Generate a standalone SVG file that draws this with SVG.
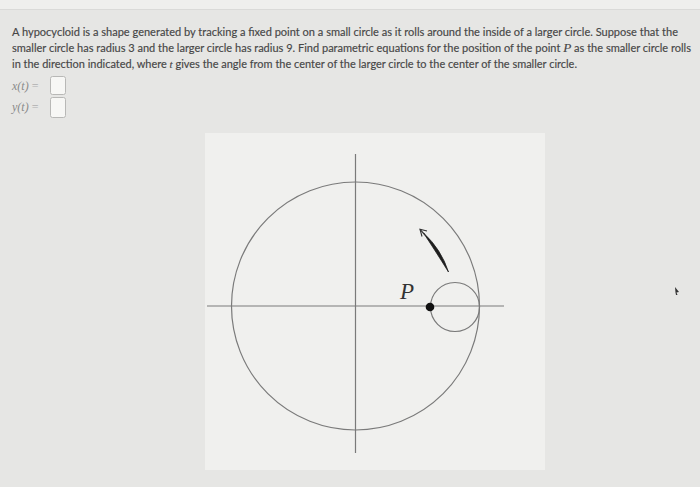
<svg xmlns="http://www.w3.org/2000/svg" width="700" height="487" viewBox="0 0 700 487">
  <defs>
    <style>
      .txt { font-family: "Lato", "Liberation Sans", sans-serif; font-size: 10.8px; fill: #474747; stroke: #474747; stroke-width: 0.15px; }
      .math { font-family: "Liberation Serif", serif; font-style: italic; font-size: 12px; fill: #8a8a8a; }
      .box { fill: #f7f7f5; stroke: #b8b8b6; stroke-width: 1; }
      .ln { fill: none; stroke: #7a7a7a; stroke-width: 1.2; }
    </style>
  </defs>
  <rect x="0" y="0" width="700" height="487" fill="#e6e6e4"/>
  <rect x="0" y="0" width="700" height="9" fill="#efefed"/>
  <line x1="0" y1="9.5" x2="700" y2="9.5" stroke="#dadad8" stroke-width="1"/>

  <g id="question">
    <text class="txt" x="12" y="36" textLength="666" lengthAdjust="spacingAndGlyphs">A hypocycloid is a shape generated by tracking a fixed point on a small circle as it rolls around the inside of a larger circle. Suppose that the</text>
    <text class="txt" x="12" y="52" textLength="679" lengthAdjust="spacingAndGlyphs">smaller circle has radius 3 and the larger circle has radius 9. Find parametric equations for the position of the point <tspan font-family="Liberation Serif, serif" font-style="italic" font-size="13px">P</tspan> as the smaller circle rolls</text>
    <text class="txt" x="12" y="68" textLength="565" lengthAdjust="spacingAndGlyphs">in the direction indicated, where <tspan font-family="Liberation Serif, serif" font-style="italic">t</tspan> gives the angle from the center of the larger circle to the center of the smaller circle.</text>
  </g>

  <g id="answer-x">
    <text class="math" x="12" y="90">x(t) <tspan font-style="normal" fill="#b0b0b0">=</tspan></text>
    <rect class="box" x="50.5" y="76.5" width="15" height="18" rx="2"/>
  </g>
  <g id="answer-y">
    <text class="math" x="12" y="111">y(t) <tspan font-style="normal" fill="#b0b0b0">=</tspan></text>
    <rect class="box" x="50.5" y="97.5" width="15" height="20" rx="2"/>
  </g>

  <g id="figure">
    <rect x="205" y="133" width="340" height="337" fill="#f0f0ee"/>
    <g id="axes">
      <line class="ln" x1="355.5" y1="154" x2="355.5" y2="453"/>
      <line class="ln" x1="207" y1="306" x2="504" y2="306"/>
    </g>
    <g id="large-circle">
      <circle class="ln" cx="355.5" cy="306" r="124"/>
    </g>
    <g id="small-circle">
      <circle class="ln" cx="455" cy="307" r="24.5"/>
    </g>
    <g id="point-P">
      <circle cx="430" cy="307" r="4.3" fill="#111"/>
      <text x="400" y="298.5" font-family="Liberation Serif, serif" font-style="italic" font-size="23" fill="#333">P</text>
    </g>
    <g id="connectors">
      <path d="M448.5 272 Q434.5 249.5 423.5 233 Q441 249 448.5 272 Z" fill="#1e1e1e" stroke="#1e1e1e" stroke-width="0.8" stroke-linejoin="round"/>
      <path d="M427 231 L420 229.3 L422 236.5" fill="none" stroke="#333" stroke-width="1.1"/>
      <line x1="420" y1="229.3" x2="425" y2="235" stroke="#333" stroke-width="1.2"/>
    </g>
  </g>

  <g id="cursor">
    <path d="M675 287 L679 292 L676.5 292.5 L677.5 295 L676 295 L675.5 292.5 Z" fill="#333"/>
  </g>
</svg>
